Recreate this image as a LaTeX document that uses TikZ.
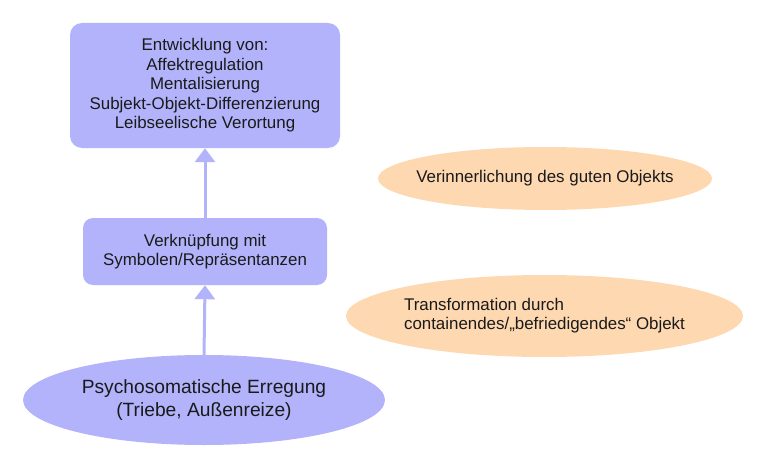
\documentclass[tikz,border=0pt]{standalone}
\usepackage{fontspec}
\setmainfont{Liberation Sans}
\usepackage{tikz}
\usetikzlibrary{shapes.geometric,arrows.meta,positioning}
\definecolor{PsyLila}{RGB}{179,179,251}
\definecolor{PsyOrange}{RGB}{253,216,176}
\definecolor{PsyText}{RGB}{26,26,26}

\begin{document}
\begin{tikzpicture}[x=1pt,y=-1pt,
  stufe/.style={fill=PsyLila,rounded corners=12pt,align=center,text=PsyText,
                font=\fontsize{16.9}{19.5}\selectfont,inner sep=0pt},
  basis/.style={ellipse,fill=PsyLila,align=center,text=PsyText,
                font=\fontsize{19.2}{22.5}\selectfont,inner sep=0pt},
  objekt/.style={ellipse,fill=PsyOrange,text=PsyText,
                 font=\fontsize{16.9}{19}\selectfont,inner ysep=0pt,inner xsep=-50pt},
  hoch/.style={draw=PsyLila,line width=3pt,-{Triangle[width=20pt,length=14pt]}},
]
\useasboundingbox (0,0) rectangle (768,468);
\node[stufe,minimum width=270pt,minimum height=125pt] (entwicklung) at (205,85.5)
  {Entwicklung von:\\Affektregulation\\Mentalisierung\\Subjekt-Objekt-Differenzierung\\Leibseelische Verortung};
\node[stufe,rounded corners=10pt,minimum width=244pt,minimum height=67pt] (verknuepfung) at (205,251.5)
  {Verknüpfung mit\\Symbolen/Repräsentanzen};
\node[basis,minimum width=362pt,minimum height=90pt] (erregung) at (204,400)
  {Psychosomatische Erregung\\(Triebe, Außenreize)};
\node[objekt,minimum width=334pt,minimum height=63pt] (verinnerlichung) at (545,178.5)
  {Verinnerlichung des guten Objekts};
\node[objekt,align=left,minimum width=397pt,minimum height=82pt] (transformation) at (544.5,316)
  {Transformation durch\\containendes/„befriedigendes“ Objekt};
\draw[hoch] (erregung.north) -- (verknuepfung.south);
\draw[hoch] (verknuepfung.north) -- (entwicklung.south);
\end{tikzpicture}
\end{document}
